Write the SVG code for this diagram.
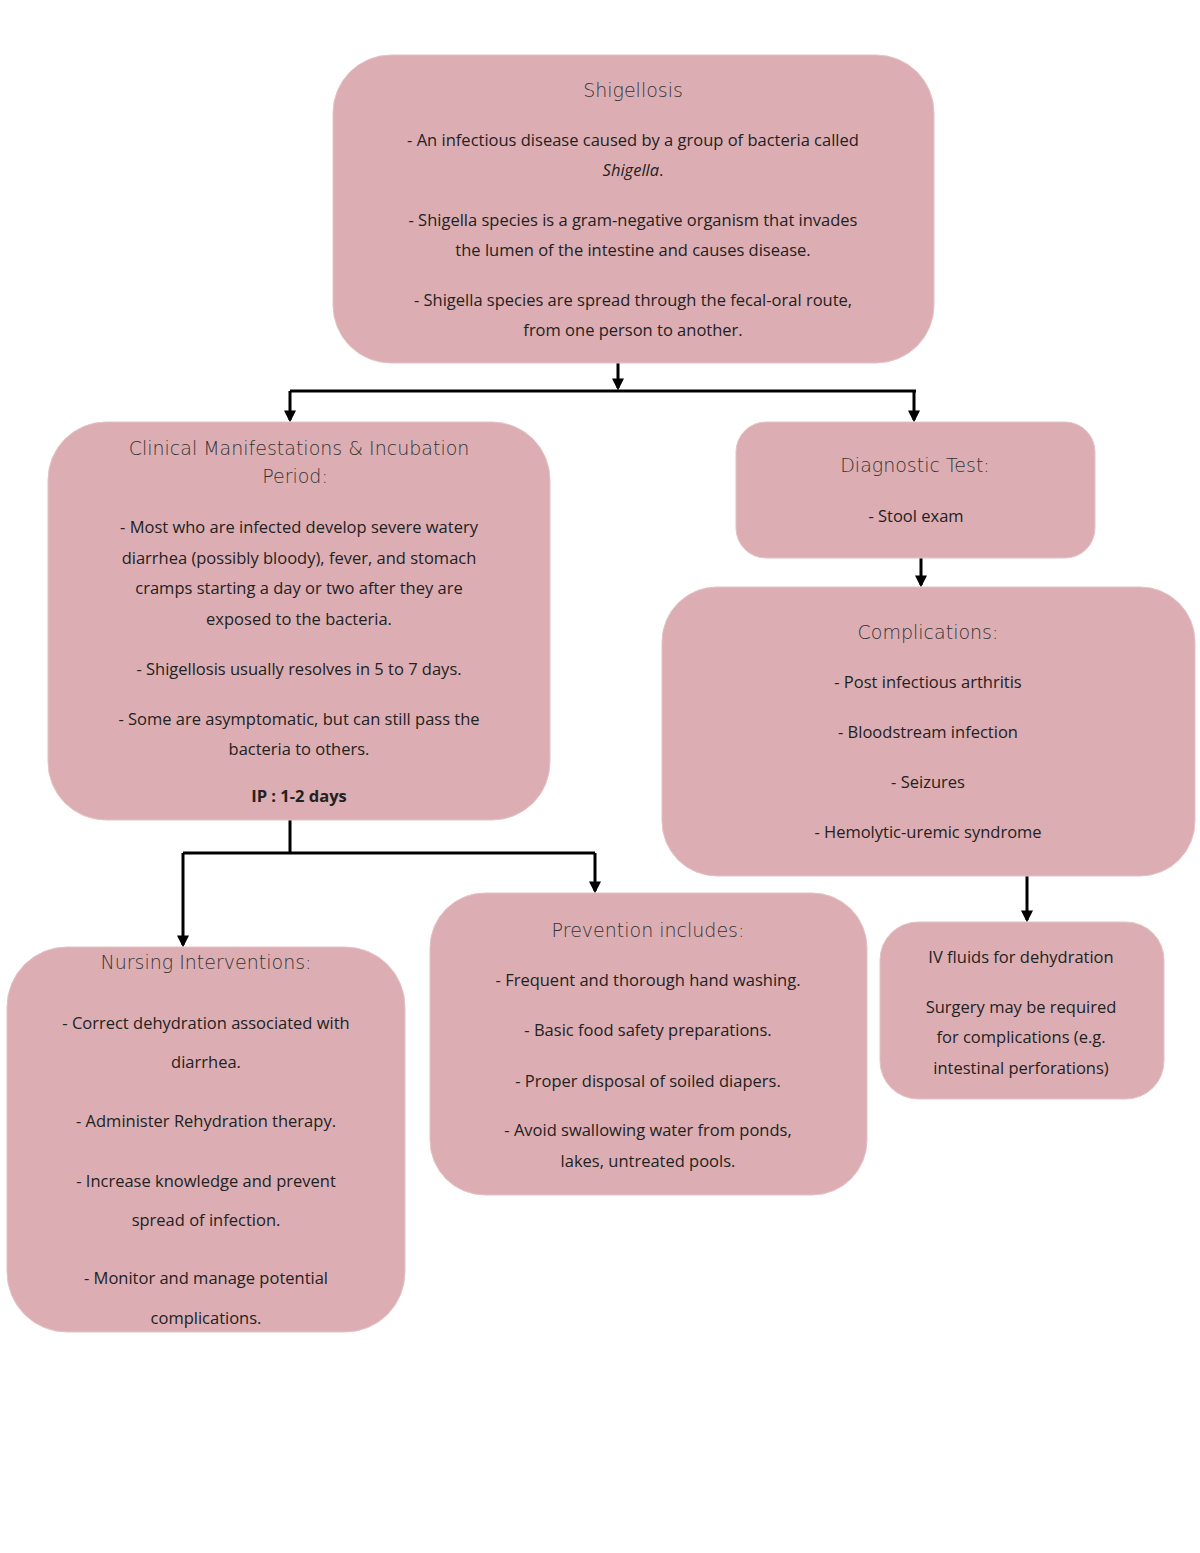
<svg xmlns="http://www.w3.org/2000/svg" width="1200" height="1553" viewBox="0 0 1200 1553">
<style>
.box{fill:#dcaeb3;stroke:#e4c2c6;stroke-width:1}
.t{font-family:"DejaVu Sans",sans-serif;font-size:19px;fill:#333;text-anchor:middle;font-weight:300}
.b{font-family:"Open Sans","Liberation Sans",sans-serif;font-size:16.5px;fill:#222;text-anchor:middle}
.c{stroke:#000;stroke-width:3;fill:none}
</style>
<defs><marker id="a" viewBox="0 0 10 10" refX="8" refY="5" markerWidth="4" markerHeight="4" orient="auto"><path d="M0,0L10,5L0,10z" fill="#000"/></marker></defs>
<rect width="1200" height="1553" fill="#fff"/>
<g id="connectors">
<path class="c" d="M618,363V388" marker-end="url(#a)"/>
<path class="c" d="M290,391H916"/>
<path class="c" d="M290,391V420" marker-end="url(#a)"/>
<path class="c" d="M914,391V420" marker-end="url(#a)"/>
<path class="c" d="M921,558V585" marker-end="url(#a)"/>
<path class="c" d="M1027,876V920" marker-end="url(#a)"/>
<path class="c" d="M290,820V853"/>
<path class="c" d="M183,853H595"/>
<path class="c" d="M183,853V945" marker-end="url(#a)"/>
<path class="c" d="M595,853V891" marker-end="url(#a)"/>
</g>
<g id="shigellosis"><rect class="box" x="333" y="55" width="601" height="308" rx="58"/>
<text class="t" x="633" y="97">Shigellosis</text>
<text class="b" x="633" y="146">- An infectious disease caused by a group of bacteria called</text>
<text class="b" x="633" y="176"><tspan font-style="italic">Shigella</tspan>.</text>
<text class="b" x="633" y="226">- Shigella species is a gram-negative organism that invades</text>
<text class="b" x="633" y="256">the lumen of the intestine and causes disease.</text>
<text class="b" x="633" y="306">- Shigella species are spread through the fecal-oral route,</text>
<text class="b" x="633" y="336">from one person to another.</text></g>
<g id="clinical"><rect class="box" x="48" y="422" width="502" height="398" rx="58"/>
<text class="t" x="299" y="455">Clinical Manifestations &amp; Incubation</text>
<text class="t" x="295" y="483">Period:</text>
<text class="b" x="299" y="533">- Most who are infected develop severe watery</text>
<text class="b" x="299" y="564">diarrhea (possibly bloody), fever, and stomach</text>
<text class="b" x="299" y="594">cramps starting a day or two after they are</text>
<text class="b" x="299" y="625">exposed to the bacteria.</text>
<text class="b" x="299" y="675">- Shigellosis usually resolves in 5 to 7 days.</text>
<text class="b" x="299" y="725">- Some are asymptomatic, but can still pass the</text>
<text class="b" x="299" y="755">bacteria to others.</text>
<text class="b" x="299" y="802" font-weight="bold">IP : 1-2 days</text></g>
<g id="diagnostic"><rect class="box" x="736" y="422" width="359" height="136" rx="30"/>
<text class="t" x="915" y="472">Diagnostic Test:</text>
<text class="b" x="916" y="522">- Stool exam</text></g>
<g id="complications"><rect class="box" x="662" y="587" width="533" height="289" rx="55"/>
<text class="t" x="928" y="639">Complications:</text>
<text class="b" x="928" y="688">- Post infectious arthritis</text>
<text class="b" x="928" y="738">- Bloodstream infection</text>
<text class="b" x="928" y="788">- Seizures</text>
<text class="b" x="928" y="838">- Hemolytic-uremic syndrome</text></g>
<g id="treatment"><rect class="box" x="880" y="922" width="284" height="177" rx="38"/>
<text class="b" x="1021" y="963">IV fluids for dehydration</text>
<text class="b" x="1021" y="1013">Surgery may be required</text>
<text class="b" x="1021" y="1043">for complications (e.g.</text>
<text class="b" x="1021" y="1074">intestinal perforations)</text></g>
<g id="nursing"><rect class="box" x="7" y="947" width="398" height="385" rx="60"/>
<text class="t" x="206" y="969">Nursing Interventions:</text>
<text class="b" x="206" y="1029">- Correct dehydration associated with</text>
<text class="b" x="206" y="1068">diarrhea.</text>
<text class="b" x="206" y="1127">- Administer Rehydration therapy.</text>
<text class="b" x="206" y="1187">- Increase knowledge and prevent</text>
<text class="b" x="206" y="1226">spread of infection.</text>
<text class="b" x="206" y="1284">- Monitor and manage potential</text>
<text class="b" x="206" y="1324">complications.</text></g>
<g id="prevention"><rect class="box" x="430" y="893" width="437" height="302" rx="55"/>
<text class="t" x="648" y="937">Prevention includes:</text>
<text class="b" x="648" y="986">- Frequent and thorough hand washing.</text>
<text class="b" x="648" y="1036">- Basic food safety preparations.</text>
<text class="b" x="648" y="1087">- Proper disposal of soiled diapers.</text>
<text class="b" x="648" y="1136">- Avoid swallowing water from ponds,</text>
<text class="b" x="648" y="1167">lakes, untreated pools.</text></g>
</svg>
